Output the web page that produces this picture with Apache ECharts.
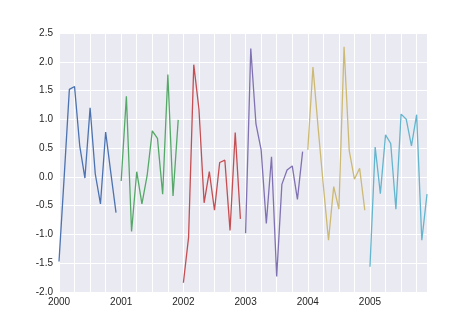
<!DOCTYPE html>
<html>
<head>
<meta charset="utf-8">
<script src="https://cdn.jsdelivr.net/npm/echarts@6/dist/echarts.min.js"></script>
<style>
html,body{margin:0;padding:0;background:#fff;}
#c{width:474px;height:324px;}
</style>
</head>
<body>
<div id="c"></div>
<script>
const years = [2000, 2001, 2002, 2003, 2004, 2005];
const values2000 = [-1.47, 0.00, 1.52, 1.57, 0.54, -0.02, 1.20, 0.05, -0.47, 0.78, 0.07, -0.62];
const values2001 = [-0.07, 1.40, -0.95, 0.09, -0.47, 0.02, 0.80, 0.67, -0.30, 1.78, -0.33, 0.99];
const values2002 = [-1.84, -1.05, 1.95, 1.18, -0.45, 0.09, -0.58, 0.25, 0.29, -0.93, 0.77, -0.73];
const values2003 = [-0.98, 2.23, 0.92, 0.47, -0.81, 0.35, -1.73, -0.13, 0.12, 0.19, -0.39, 0.44];
const values2004 = [0.47, 1.91, 0.85, -0.15, -1.10, -0.17, -0.56, 2.26, 0.45, -0.04, 0.15, -0.58];
const values2005 = [-1.56, 0.52, -0.29, 0.73, 0.58, -0.56, 1.09, 1.00, 0.54, 1.08, -1.10, -0.30];
const yearValues = [values2000, values2001, values2002, values2003, values2004, values2005];
const colors = ['#4C72B0', '#55A868', '#C44E52', '#8172B2', '#CCB974', '#64B5CD'];
const yTicks = [-2.0, -1.5, -1.0, -0.5, 0.0, 0.5, 1.0, 1.5, 2.0, 2.5];

const series = yearValues.map((vals, i) => ({
  type: 'line',
  name: String(years[i]),
  data: vals.map((v, m) => [i * 12 + m, v]),
  showSymbol: false,
  symbol: 'none',
  lineStyle: { color: colors[i], width: 1.3 },
  itemStyle: { color: colors[i] },
  animation: false
}));

const chart = echarts.init(document.getElementById('c'), null, { renderer: 'canvas' });
chart.setOption({
  backgroundColor: '#ffffff',
  animation: false,
  grid: { left: 59, right: 47, top: 33, bottom: 32, show: true, backgroundColor: '#EAEAF2', borderWidth: 0 },
  xAxis: {
    type: 'value', min: 0, max: 71, interval: 3,
    axisLine: { show: false }, axisTick: { show: false },
    splitLine: { show: true, lineStyle: { color: '#ffffff', width: 1 } },
    axisLabel: {
      color: '#262626', fontFamily: 'Liberation Sans, Arial, sans-serif', fontSize: 10, margin: 5,
      showMaxLabel: false,
      formatter: v => (v % 12 === 0 ? String(years[0] + v / 12) : '')
    }
  },
  yAxis: {
    type: 'value', min: yTicks[0], max: yTicks[yTicks.length - 1], interval: 0.5,
    axisLine: { show: false }, axisTick: { show: false },
    splitLine: { show: true, lineStyle: { color: '#ffffff', width: 1 } },
    axisLabel: {
      color: '#262626', fontFamily: 'Liberation Sans, Arial, sans-serif', fontSize: 10, margin: 6,
      formatter: v => v.toFixed(1)
    }
  },
  series: series
});
</script>
</body>
</html>
